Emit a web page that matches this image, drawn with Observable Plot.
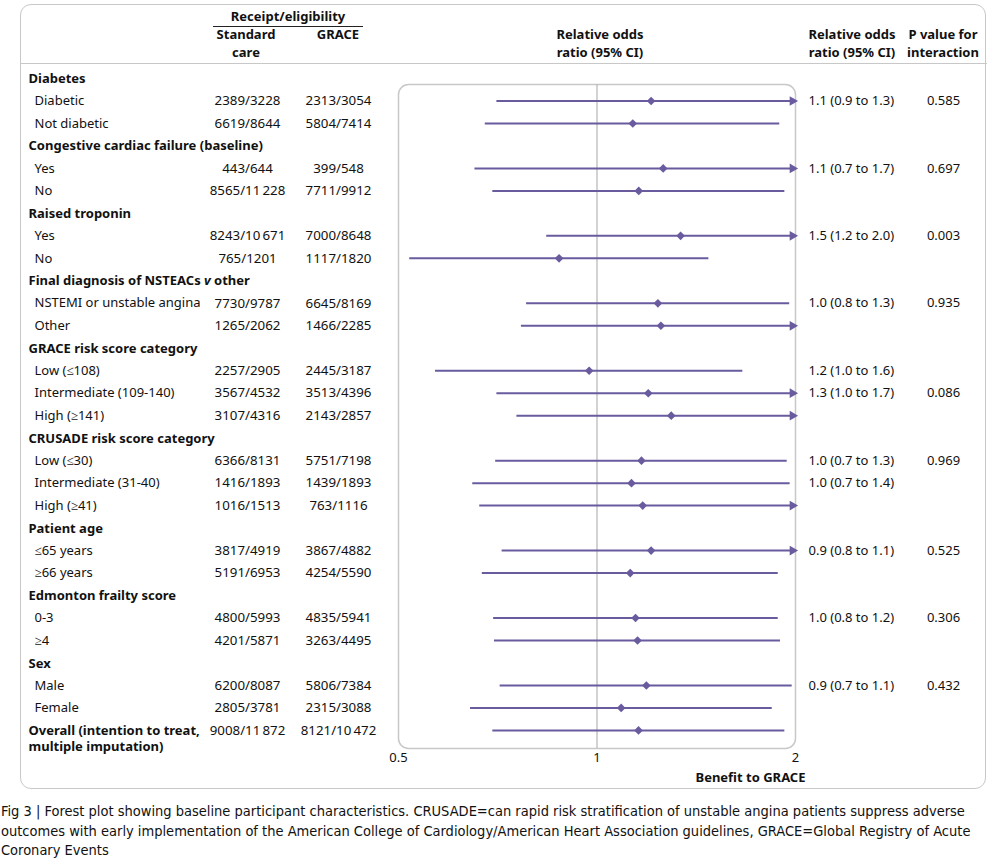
<!DOCTYPE html>
<html>
<head>
<meta charset="utf-8">
<script src="https://cdn.jsdelivr.net/npm/d3@7"></script>
<script src="https://cdn.jsdelivr.net/npm/@observablehq/plot@0.6"></script>
<style>
  html, body { margin: 0; padding: 0; background: #fff; }
  body { width: 997px; height: 861px; position: relative; overflow: hidden; font-family: "Noto Sans", sans-serif; color: #111; }
  #box { position: absolute; left: 20px; top: 4px; width: 966px; height: 785px; border: 1.5px solid #c8c8c8; border-radius: 11px; box-sizing: border-box; }
  #sep { position: absolute; left: 20px; top: 63px; width: 967px; height: 0; border-top: 1.5px solid #c8c8c8; }
  #chart { position: absolute; left: 0; top: 0; }
  .hd { position: absolute; font-weight: bold; font-size: 13px; line-height: 17.5px; text-align: center; transform: translateX(-50%); white-space: nowrap; }
  #uline { position: absolute; left: 213px; top: 26px; width: 150px; border-top: 1px solid #222; }
  #caption { position: absolute; left: 1px; top: 802px; font-family: "Liberation Sans Narrow", "DejaVu Sans Condensed", sans-serif; font-size: 14.5px; line-height: 19.5px; white-space: nowrap; color: #111; }
</style>
</head>
<body>
<div id="box"></div>
<div id="sep"></div>
<div id="chart"></div>
<div class="hd" style="left:288px; top:8px;">Receipt/eligibility</div>
<div id="uline"></div>
<div class="hd" style="left:246px; top:26px;">Standard<br>care</div>
<div class="hd" style="left:338px; top:26px;">GRACE</div>
<div class="hd" style="left:600px; top:26px;">Relative odds<br>ratio (95% CI)</div>
<div class="hd" style="left:852px; top:26px;">Relative odds<br>ratio (95% CI)</div>
<div class="hd" style="left:943px; top:26px;">P value for<br>interaction</div>
<div id="caption">Fig 3 | Forest plot showing baseline participant characteristics. CRUSADE=can rapid risk stratification of unstable angina patients suppress adverse<br>outcomes with early implementation of the American College of Cardiology/American Heart Association guidelines, GRACE=Global Registry of Acute<br>Coronary Events</div>
<script>
// ---- data ----
const rowLabels = [
  "Diabetes", "Diabetic", "Not diabetic",
  "Congestive cardiac failure (baseline)", "Yes", "No",
  "Raised troponin", "Yes", "No",
  "Final diagnosis of NSTEACs v other", "NSTEMI or unstable angina", "Other",
  "GRACE risk score category", "Low (≤108)", "Intermediate (109-140)", "High (≥141)",
  "CRUSADE risk score category", "Low (≤30)", "Intermediate (31-40)", "High (≥41)",
  "Patient age", "≤65 years", "≥66 years",
  "Edmonton frailty score", "0-3", "≥4",
  "Sex", "Male", "Female",
  "Overall (intention to treat,\nmultiple imputation)"
];
const rowIsHeader = [1,0,0, 1,0,0, 1,0,0, 1,0,0, 1,0,0,0, 1,0,0,0, 1,0,0, 1,0,0, 1,0,0, 1];
const standardCare = [
  "", "2389/3228", "6619/8644",
  "", "443/644", "8565/11\u2009228",
  "", "8243/10\u2009671", "765/1201",
  "", "7730/9787", "1265/2062",
  "", "2257/2905", "3567/4532", "3107/4316",
  "", "6366/8131", "1416/1893", "1016/1513",
  "", "3817/4919", "5191/6953",
  "", "4800/5993", "4201/5871",
  "", "6200/8087", "2805/3781",
  "9008/11\u2009872"
];
const graceArm = [
  "", "2313/3054", "5804/7414",
  "", "399/548", "7711/9912",
  "", "7000/8648", "1117/1820",
  "", "6645/8169", "1466/2285",
  "", "2445/3187", "3513/4396", "2143/2857",
  "", "5751/7198", "1439/1893", "763/1116",
  "", "3867/4882", "4254/5590",
  "", "4835/5941", "3263/4495",
  "", "5806/7384", "2315/3088",
  "8121/10\u2009472"
];
const ciText = [
  "", "1.1 (0.9 to 1.3)", "",
  "", "1.1 (0.7 to 1.7)", "",
  "", "1.5 (1.2 to 2.0)", "",
  "", "1.0 (0.8 to 1.3)", "",
  "", "1.2 (1.0 to 1.6)", "1.3 (1.0 to 1.7)", "",
  "", "1.0 (0.7 to 1.3)", "1.0 (0.7 to 1.4)", "",
  "", "0.9 (0.8 to 1.1)", "",
  "", "1.0 (0.8 to 1.2)", "",
  "", "0.9 (0.7 to 1.1)", "",
  ""
];
const pText = [
  "", "0.585", "",
  "", "0.697", "",
  "", "0.003", "",
  "", "0.935", "",
  "", "", "0.086", "",
  "", "0.969", "", "",
  "", "0.525", "",
  "", "0.306", "",
  "", "0.432", "",
  ""
];
// plotted estimates (null upper = beyond axis, drawn with arrow)
const estimate = [null,1.208,1.133, null,1.260,1.157, null,1.339,0.876, null,1.237,1.250, null,0.973,1.196,1.296, null,1.168,1.128,1.173, null,1.208,1.123, null,1.144,1.152, null,1.188,1.088, 1.156];
const lower    = [null,0.705,0.677, null,0.653,0.695, null,0.839,0.520, null,0.782,0.768, null,0.569,0.705,0.756, null,0.702,0.648,0.664, null,0.718,0.670, null,0.697,0.699, null,0.713,0.643, 0.695];
const upper    = [null,null,1.893, null,null,1.927, null,null,1.478, null,1.960,null, null,1.664,null,null, null,1.943,1.963,null, null,null,1.883, null,1.883,1.898, null,1.977,1.844, 1.927];
const xTicks = [0.5, 1, 2];

// ---- build table ----
const xMax = xTicks[xTicks.length - 1];
const rows = rowLabels.map((label, i) => ({
  i, label, header: rowIsHeader[i] === 1,
  sc: standardCare[i], gr: graceArm[i], ci: ciText[i], p: pText[i],
  est: estimate[i], lo: lower[i], hi: upper[i],
  hiDraw: upper[i] ?? xMax, arrow: estimate[i] != null && upper[i] == null
}));
const items = rows.filter(d => d.est != null);

const pitch = 22.48;
const purple = "#6a5b9f";
const font = "Noto Sans";

const chart = Plot.plot({
  width: 997,
  height: 790,
  marginLeft: 398,
  marginRight: 202,
  marginTop: 84,
  marginBottom: 42,
  style: { fontFamily: font, fontSize: "13px", color: "#111", background: "transparent" },
  x: { type: "log", domain: [0.5, 2], ticks: xTicks, tickFormat: d => String(d), tickSize: 0, tickPadding: 4, label: null, fontSize: 13 },
  y: { domain: [6 / pitch, 670 / pitch], reverse: true, axis: null },
  marks: [
    Plot.frame({ stroke: "#c8c8c8", strokeWidth: 1.5, rx: 10 }),
    Plot.ruleX([1], { stroke: "#b5b5b5", strokeWidth: 1.2 }),
    Plot.ruleY(items, { y: "i", x1: "lo", x2: "hiDraw", stroke: purple, strokeWidth: 2 }),
    Plot.dot(items.filter(d => d.arrow), { x: "hiDraw", y: "i", symbol: "triangle", rotate: 90, r: 3.6, fill: purple, stroke: "none", dx: -3 }),
    Plot.dot(items, { x: "est", y: "i", symbol: "diamond2", r: 3.9, fill: purple, stroke: "none" }),
    Plot.text(rows.filter(d => d.header), { y: "i", text: "label", frameAnchor: "left", dx: -370, textAnchor: "start", lineAnchor: "top", dy: -7, lineHeight: 1.25, fontWeight: "bold", fontSize: 13 }),
    Plot.text(rows.filter(d => !d.header), { y: "i", text: "label", frameAnchor: "left", dx: -364, textAnchor: "start", fontSize: 13 }),
    Plot.text(rows, { y: "i", text: "sc", frameAnchor: "left", dx: -151, textAnchor: "middle", fontSize: 13.3 }),
    Plot.text(rows, { y: "i", text: "gr", frameAnchor: "left", dx: -60, textAnchor: "middle", fontSize: 13.3 }),
    Plot.text(rows, { y: "i", text: "ci", frameAnchor: "left", dx: 410, textAnchor: "start", fontSize: 13 }),
    Plot.text(rows, { y: "i", text: "p", frameAnchor: "left", dx: 545, textAnchor: "middle", fontSize: 13 }),
    Plot.text(["Benefit to GRACE"], { frameAnchor: "bottom-right", dx: 10, dy: 33, textAnchor: "end", fontWeight: "bold", fontSize: 13 })
  ]
});
document.getElementById("chart").appendChild(chart);

// italic "v" in the NSTEACs header
chart.querySelectorAll("text, tspan").forEach(t => {
  if (t.childElementCount === 0 && t.textContent === "Final diagnosis of NSTEACs v other") {
    t.innerHTML = 'Final diagnosis of NSTEACs <tspan font-style="italic">v</tspan> other';
  }
});
</script>
</body>
</html>
